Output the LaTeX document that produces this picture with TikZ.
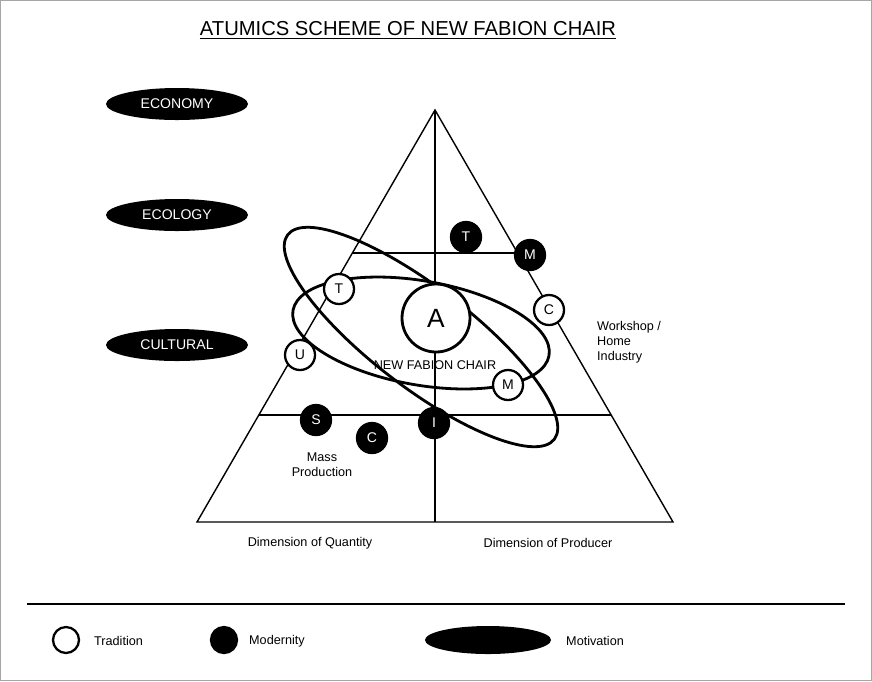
\documentclass[tikz,border=0pt]{standalone}
\usepackage{fontspec}
\setmainfont{Liberation Sans}
\usetikzlibrary{shapes.geometric}
\begin{document}
\begin{tikzpicture}[x=0.02cm,y=-0.02cm,
 op/.style={circle,draw,line width=1.3pt,fill=white,minimum size=30*0.02cm,inner sep=0pt,font=\fontsize{8}{9}\selectfont},
 fl/.style={op,fill=black,text=white},
 mot/.style={ellipse,fill=black,text=white,minimum width=142*0.02cm,minimum height=32*0.02cm,inner sep=0pt,font=\fontsize{8}{9}\selectfont},
 lbl/.style={font=\fontsize{7.2}{8.6}\selectfont}]
\useasboundingbox (0,0) rectangle (872,681);
\draw[gray!70] (0.5,0.5) rectangle (871.5,680.5);
\node[font=\fontsize{11.5}{13}\selectfont] (title) at (408,30) {\underline{ATUMICS SCHEME OF NEW FABION CHAIR}};
\coordinate (ap) at (435,110); \coordinate (bl) at (197,522); \coordinate (br) at (673,522);
\coordinate (bm) at (435,522);
\coordinate (h1l) at (352,253); \coordinate (h1r) at (518,253);
\coordinate (h2l) at (259,415); \coordinate (h2r) at (611,415);
\draw[line width=0.8pt] (ap)--(bl)--(br)--cycle;
\draw[line width=0.8pt] (ap)--(bm) (h1l)--(h1r) (h2l)--(h2r);
\draw[line width=1.6pt,rotate around={-10:(421,333)}] (421,333) ellipse (130 and 52);
\draw[line width=1.6pt,rotate around={-37.5:(421,337)}] (421,337) ellipse (168 and 50);
\node[circle,draw,line width=1.6pt,fill=white,minimum size=68*0.02cm,inner sep=0pt,font=\fontsize{15}{17}\selectfont] (A) at (436,318) {A};
\node[lbl] (nfc) at (435,365) {NEW FABION CHAIR};
\node[op] (t1) at (339,289) {T};
\node[op] (u1) at (300,355) {U};
\node[op] (c1) at (549,310) {C};
\node[op] (m1) at (508,385) {M};
\node[fl] (t2) at (466,237) {T};
\node[fl] (m2) at (530,255) {M};
\node[fl] (s2) at (316,420) {S};
\node[fl] (c2) at (372,438) {C};
\node[fl] (i2) at (434,423) {I};
\node[lbl,align=left,anchor=west] (ws) at (591,342) {Workshop /\\Home\\Industry};
\node[lbl,align=center] (mp) at (322,465) {Mass\\Production};
\node[lbl] (dq) at (310,543) {Dimension of Quantity};
\node[lbl] (dp) at (548,543) {Dimension of Producer};
\node[mot] (eco) at (177,104) {ECONOMY};
\node[mot] (ecl) at (177,215) {ECOLOGY};
\node[mot] (cul) at (177,345) {CULTURAL};
\coordinate (ll) at (27,604); \coordinate (lr) at (845,604);
\draw[line width=0.6pt] (ll)--(lr);
\node[op,minimum size=26*0.02cm] (lt) at (66,640) {};
\node[lbl,anchor=west] (ltt) at (88,641) {Tradition};
\node[fl,minimum size=26*0.02cm] (lm) at (224,640) {};
\node[lbl,anchor=west] (lmt) at (243,641) {Modernity};
\node[mot,minimum width=126*0.02cm,minimum height=28*0.02cm] (lmo) at (488,640) {};
\node[lbl,anchor=west] (lmot) at (560,641) {Motivation};
\end{tikzpicture}
\end{document}
